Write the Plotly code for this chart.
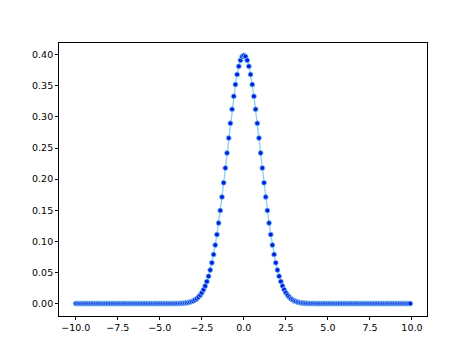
import plotly.graph_objects as go

x_vals = [round(-10 + 0.1 * i, 1) for i in range(200)]

zeros_left = [0.0] * 58
left_vals = [0.0001, 0.0001, 0.0001, 0.0002, 0.0003, 0.0004, 0.0006, 0.0009, 0.0012, 0.0017,
             0.0024, 0.0033, 0.0044, 0.0060, 0.0079, 0.0104, 0.0136, 0.0175, 0.0224, 0.0283,
             0.0355, 0.0440, 0.0540, 0.0656, 0.0790, 0.0940, 0.1109, 0.1295, 0.1497, 0.1714,
             0.1942, 0.2179, 0.2420, 0.2661, 0.2897, 0.3123, 0.3332, 0.3521, 0.3683, 0.3814,
             0.3910, 0.3970]
peak_val = [0.3989]
right_vals = [0.3970, 0.3910, 0.3814, 0.3683, 0.3521, 0.3332, 0.3123, 0.2897, 0.2661, 0.2420,
              0.2179, 0.1942, 0.1714, 0.1497, 0.1295, 0.1109, 0.0940, 0.0790, 0.0656, 0.0540,
              0.0440, 0.0355, 0.0283, 0.0224, 0.0175, 0.0136, 0.0104, 0.0079, 0.0060, 0.0044,
              0.0033, 0.0024, 0.0017, 0.0012, 0.0009, 0.0006, 0.0004, 0.0003, 0.0002, 0.0001,
              0.0001, 0.0001]
zeros_right = [0.0] * 57
y_vals = zeros_left + left_vals + peak_val + right_vals + zeros_right

x_ticks = [-10.0, -7.5, -5.0, -2.5, 0.0, 2.5, 5.0, 7.5, 10.0]
x_tick_text = ["\u221210.0", "\u22127.5", "\u22125.0", "\u22122.5", "0.0", "2.5", "5.0", "7.5", "10.0"]
y_ticks = [0.00, 0.05, 0.10, 0.15, 0.20, 0.25, 0.30, 0.35, 0.40]
y_tick_text = ["0.00", "0.05", "0.10", "0.15", "0.20", "0.25", "0.30", "0.35", "0.40"]

fig = go.Figure()
fig.add_trace(go.Scatter(
    x=x_vals, y=y_vals, mode="lines+markers",
    line=dict(color="#8ccdf5", width=1.3),
    marker=dict(size=5, color="#0022dd", line=dict(color="#8ccdf5", width=0.8)),
    showlegend=False,
))

xmin, xmax = min(x_vals), max(x_vals)
ymin, ymax = min(y_vals), max(y_vals)
px = (xmax - xmin) * 0.05
py = (ymax - ymin) * 0.05

axis_common = dict(
    showgrid=False, zeroline=False, showline=True, mirror=True,
    linecolor="black", linewidth=0.8, ticks="outside", ticklen=3, tickwidth=0.8,
    tickcolor="black", tickfont=dict(family="DejaVu Sans", size=9.5, color="black"),
)
fig.update_xaxes(range=[xmin - px, xmax + px], tickvals=x_ticks, ticktext=x_tick_text, **axis_common)
fig.update_yaxes(range=[ymin - py, ymax + py], tickvals=y_ticks, ticktext=y_tick_text, **axis_common)

fig.update_layout(
    width=474, height=355,
    margin=dict(l=59, r=47, t=43, b=39),
    plot_bgcolor="white", paper_bgcolor="white",
)

fig.write_html("out.html")
